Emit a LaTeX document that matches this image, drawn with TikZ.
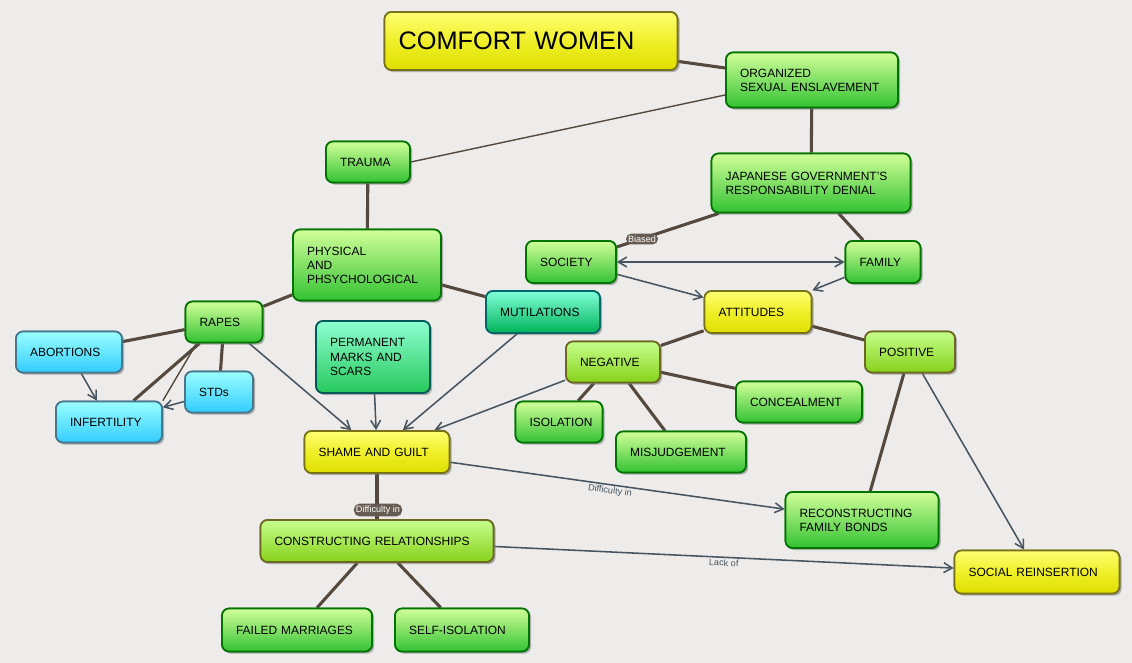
\documentclass[tikz,border=0pt]{standalone}
\usepackage{fontspec}
\setmainfont{Liberation Sans}
\usetikzlibrary{arrows.meta,shadows}
\definecolor{bg}{HTML}{EDECEA}
\definecolor{ln}{HTML}{54493F}
\definecolor{ar}{HTML}{485560}
\tikzset{
 x=0.025cm,y=-0.025cm,
 box/.style={rounded corners=5pt,line width=1.2pt,inner sep=0pt,font=\fontsize{8.5}{10}\selectfont,align=left,execute at begin node={\hyphenpenalty=10000\exhyphenpenalty=10000},drop shadow={opacity=0.35,shadow xshift=1.5pt,shadow yshift=-1.5pt}},
 gbox/.style={box,top color=green!45!yellow!40,bottom color=green!70!black!80,draw=green!45!black},
 ybox/.style={box,top color=yellow!55,bottom color=yellow!75!olive,draw=olive!80!black},
 ygbox/.style={box,top color=yellow!50!green!45,bottom color=yellow!60!green!80!black!90,draw=olive!70!black},
 cbox/.style={box,top color=cyan!40,bottom color=cyan!75!blue!80,draw=cyan!50!black},
 tbox/.style={box,top color=green!30!cyan!50,bottom color=green!50!cyan!70!black,draw=teal!80!black},
 pbox/.style={box,top color=green!40!cyan!45,bottom color=green!50!teal!85,draw=teal!70!black},
 ln/.style={draw=ln,line width=2.2pt},
 lnt/.style={draw=ln,line width=1pt},
 ar/.style={draw=ar,line width=1.1pt,-{Straight Barb[length=6pt,width=7pt]}},
 pill/.style={fill=ln!90,text=white,rounded corners=4pt,inner sep=1.5pt,font=\fontsize{6.5}{7}\selectfont},
 lab/.style={text=ar,font=\fontsize{6.5}{7}\selectfont,inner sep=1pt},
}
\newcommand{\bx}[6]{\node[#1,minimum width=#4*0.025cm,minimum height=#5*0.025cm,text width=#4*0.025cm-20pt] (#2) at (#3) {#6};}
\newcommand{\allboxes}{%
\bx{ybox,font=\fontsize{18}{20}\selectfont}{cw}{531,41}{293}{58}{COMFORT WOMEN}
\bx{gbox}{org}{812,80}{172}{55}{ORGANIZED\\SEXUAL ENSLAVEMENT}
\bx{gbox}{tra}{368,162}{84}{41}{TRAUMA}
\bx{gbox}{jap}{811,183}{199}{59}{JAPANESE GOVERNMENT'S\\RESPONSABILITY DENIAL}
\bx{gbox}{phy}{367,265}{148}{71}{PHYSICAL\\AND\\PHSYCHOLOGICAL}
\bx{gbox}{soc}{571,262}{90}{42}{SOCIETY}
\bx{gbox}{fam}{883,262}{75}{42}{FAMILY}
\bx{ybox}{att}{758,312}{107}{42}{ATTITUDES}
\bx{gbox}{rap}{224,322}{77}{41}{RAPES}
\bx{tbox}{mut}{543,312}{114}{42}{MUTILATIONS}
\bx{pbox}{per}{373,357}{114}{72}{PERMANENT\\MARKS AND\\ SCARS}
\bx{ygbox}{neg}{613,362}{94}{41}{NEGATIVE}
\bx{ygbox}{pos}{910,352}{90}{41}{POSITIVE}
\bx{cbox}{abo}{69,352}{106}{41}{ABORTIONS}
\bx{cbox}{std}{219,392}{68}{41}{STDs}
\bx{cbox}{inf}{109,422}{106}{41}{INFERTILITY}
\bx{gbox}{con}{799,402}{126}{41}{CONCEALMENT}
\bx{gbox}{iso}{559,422}{87}{41}{ISOLATION}
\bx{gbox}{mis}{681,452}{130}{41}{MISJUDGEMENT}
\bx{ybox}{sha}{377,452}{145}{42}{SHAME AND GUILT}
\bx{gbox}{rec}{862,520}{153}{56}{RECONSTRUCTING\\FAMILY BONDS}
\bx{ygbox}{cre}{377,541}{233}{42}{CONSTRUCTING RELATIONSHIPS}
\bx{ybox}{sri}{1037,572}{165}{43}{SOCIAL REINSERTION}
\bx{gbox}{fai}{297,630}{150}{43}{FAILED MARRIAGES}
\bx{gbox}{sel}{462,630}{134}{43}{SELF-ISOLATION}}
\begin{document}
\begin{tikzpicture}
\fill[bg] (0,0) rectangle (1132,663);
\useasboundingbox (0,0) rectangle (1132,663);
\allboxes
% undirected
\draw[ln] (cw) -- (org);
\draw[lnt] (org.west) ++(0,15) -- (tra.east);
\draw[ln] (org) -- (jap);
\draw[ln] (tra) -- (phy);
\draw[ln] (jap) -- (soc);
\draw[ln] (jap) -- (fam);
\draw[ln] (phy) -- (rap);
\draw[ln] (phy) -- (mut);
\draw[ln] (att) -- (neg);
\draw[ln] (att) -- (pos);
\draw[ln] (rap) -- (abo);
\draw[ln] (rap) -- (inf);
\draw[lnt] (rap.south west) ++(12,0) -- (inf.north east);
\draw[ln] (rap) -- (std);
\draw[ln] (neg) -- (iso);
\draw[ln] (neg) -- (mis);
\draw[ln] (neg) -- (con);
\draw[ln] (pos) -- (rec);
\draw[ln] (sha) -- (cre);
\draw[ln] (cre) -- (fai);
\draw[ln] (cre) -- (sel);
% arrows
\draw[ar,{Straight Barb[length=6pt,width=7pt]}-{Straight Barb[length=6pt,width=7pt]}] (soc) -- (fam);
\draw[ar] (soc) -- (att);
\draw[ar] (fam) -- (att);
\draw[ar] (abo) -- (inf);
\draw[ar] (std) -- (inf);
\draw[ar] (rap) -- (sha);
\draw[ar] (per) -- (sha);
\draw[ar] (mut) -- (sha);
\draw[ar] (neg) -- (sha);
\draw[ar] (sha) -- node[lab,sloped,below,pos=0.48]{Difficulty in} (rec);
\draw[ar] (pos) -- (sri);
\draw[ar] (cre) -- node[lab,sloped,below,pos=0.5]{Lack of} (sri);
\allboxes
\node[pill] (bl) at (642,239) {Biased};
\node[pill] (dl) at (378,510) {Difficulty in};
\end{tikzpicture}
\end{document}
